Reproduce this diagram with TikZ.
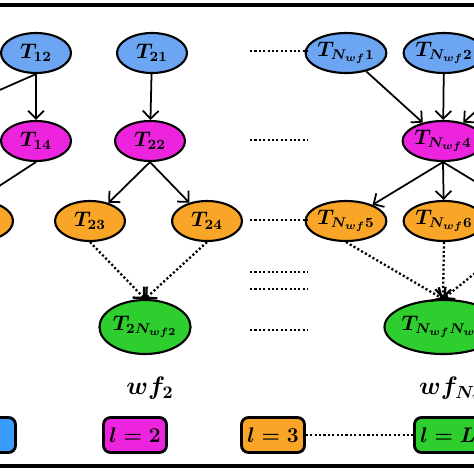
\documentclass[tikz,border=0pt]{standalone}
\usepackage{amsmath,amssymb}
\usepackage{xcolor}
\usepackage{tikz}
\usetikzlibrary{arrows.meta,shapes.geometric}
\definecolor{azulnodo}{RGB}{108,166,242}
\definecolor{azulnivel}{RGB}{60,155,255}
\definecolor{rosa}{RGB}{236,36,222}
\definecolor{naranja}{RGB}{249,165,40}
\definecolor{verde}{RGB}{45,206,45}
\tikzset{
  tarea/.style={ellipse,draw=black,line width=1.2pt,minimum width=1.4cm,
    minimum height=0.8cm,inner sep=0pt,font=\large\boldmath},
  final/.style={tarea,minimum width=1.74cm,minimum height=1.08cm},
  flecha/.style={-{Straight Barb[length=4.5pt,width=9pt]},line width=1pt},
  punteada/.style={line width=1.3pt,dash pattern=on 1.2pt off 1.3pt},
  nivel/.style={draw=black,line width=1.6pt,rounded corners=4pt,
    minimum width=1.26cm,minimum height=0.7cm,font=\large\boldmath},
  flujo/.style={font=\Large\boldmath},
}
\begin{document}
\begin{tikzpicture}[x=0.02cm,y=-0.02cm]
			\useasboundingbox (0,0) rectangle (474,474);
			\clip (0,0) rectangle (474,474);
			\draw[line width=2.2pt] (0,5) -- (474,5);
			\draw[line width=2.2pt] (0,466) -- (474,466);
			% nivel 1
			\node[tarea,fill=azulnodo] (t12) at (36,53) {$T_{12}$};
			\node[tarea,fill=azulnodo] (t21) at (152,53) {$T_{21}$};
			\node[tarea,fill=azulnodo] (tn1) at (346,53) {$T_{N_{wf}1}$};
			\node[tarea,fill=azulnodo] (tn2) at (444,53) {$T_{N_{wf}2}$};
			% nivel 2
			\node[tarea,fill=rosa] (t14) at (36,141) {$T_{14}$};
			\node[tarea,fill=rosa] (t22) at (150,141) {$T_{22}$};
			\node[tarea,fill=rosa] (tn4) at (443,141) {$T_{N_{wf}4}$};
			% nivel 3
			\node[tarea,fill=naranja] (t1x) at (-22,221) {};
			\node[tarea,fill=naranja] (t23) at (90,221) {$T_{23}$};
			\node[tarea,fill=naranja] (t24) at (207,221) {$T_{24}$};
			\node[tarea,fill=naranja] (tn5) at (346,221) {$T_{N_{wf}5}$};
			\node[tarea,fill=naranja] (tn6) at (444,221) {$T_{N_{wf}6}$};
			% nivel L
			\node[final,fill=verde] (t2n) at (145,327) {$T_{2N_{wf2}}$};
			\node[final,fill=verde] (tnn) at (443,327) {$T_{N_{wf}N_{wf}}$};
			\coordinate (t13) at (-80,125);
			\coordinate (t1y) at (-30,205);
			\coordinate (tn3) at (540,53);
			\coordinate (tn7) at (540,221);
			\coordinate (tn8) at (540,221);
			% aristas
			\draw[flecha] (t12.south) -- (t13);
			\draw[flecha] (t12) -- (t14);
			\draw[flecha] (t14.south) -- (t1y);
			\draw[flecha] (t21) -- (t22);
			\draw[flecha] (t22.south) -- (t23);
			\draw[flecha] (t22.south) -- (t24);
			\draw[flecha,punteada] (t23.south) -- (t2n.north);
			\draw[flecha,punteada] (t24.south) -- (t2n.north);
			\draw[flecha] (tn1) -- (tn4);
			\draw[flecha] (tn2) -- (tn4);
			\draw[flecha] (tn3) -- (tn4);
			\draw[flecha] (tn4.south) -- (tn5);
			\draw[flecha] (tn4.south) -- (tn6);
			\draw[flecha] (tn4.south) -- (tn7);
			\draw[flecha,punteada] (tn5.south) -- (tnn.north);
			\draw[flecha,punteada] (tn6.south) -- (tnn.north);
			\draw[flecha,punteada] (tn8) -- (tnn.north);
			% puntos suspensivos
			\draw[punteada] (250,51) -- (308,51);
			\draw[punteada] (250,140) -- (308,140);
			\draw[punteada] (250,220) -- (308,220);
			\draw[punteada] (250,272) -- (308,272);
			\draw[punteada] (250,289) -- (308,289);
			\draw[punteada] (250,330) -- (308,330);
			% flujos
			\node[flujo] (wf2) at (150,388) {$wf_2$};
			\node[flujo] (wfn) at (457,390) {$wf_{N_{wf}}$};
			% leyenda
			\node[nivel,fill=azulnivel] (l1) at (-16,435) {};
			\node[nivel,fill=rosa] (l2) at (135,435) {$l = 2$};
			\node[nivel,fill=naranja] (l3) at (273,435) {$l = 3$};
			\node[nivel,fill=verde] (lL) at (448,435) {$l = L$};
			\draw[punteada] (l3) -- (lL);
		\end{tikzpicture}
\end{document}
